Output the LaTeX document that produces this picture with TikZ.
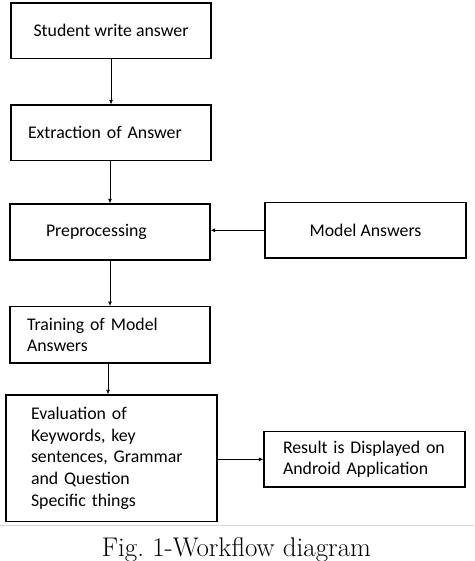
\documentclass[tikz,border=0pt]{standalone}
\usepackage{fontspec}
\newfontfamily\boxfont{Carlito}
\usetikzlibrary{arrows.meta}
\tikzset{
  box/.style={draw=black, line width=1.1pt, rectangle, font=\boxfont\fontsize{17.8pt}{21.7pt}\selectfont, align=left},
  flow/.style={draw=black, line width=0.9pt, -{Latex[length=4.5pt,width=4pt]}},
}
\begin{document}
\begin{tikzpicture}[x=1pt,y=-1pt]
\useasboundingbox (0,0) rectangle (474,561);
\node[box, minimum width=200, minimum height=55.5, align=center] (b1) at (111,30.75) {Student write answer};
\node[box, minimum height=55.7, inner xsep=17, text width=166] (b2) at (111,132.9) {Extraction of Answer};
\node[box, minimum height=56, inner xsep=36, text width=128] (b3) at (110,232) {Preprocessing};
\node[box, minimum width=201, minimum height=55.3, align=center] (m) at (365.5,230.3) {Model Answers};
\node[box, minimum height=56.3, inner xsep=17, text width=166] (b4) at (110,334.8) {Training of Model\\Answers};
\node[box, minimum height=126.7, inner xsep=25, text width=161] (b5) at (111.5,458.3) {Evaluation of\\Keywords, key\\sentences, Grammar\\and Question\\Specific things};
\node[box, minimum height=55.3, inner xsep=19, text width=163] (r) at (364.5,459.3) {Result is Displayed on\\Android Application};
\draw[flow] (b1.south) -- (b2.north);
\draw[flow] (b3.north |- b2.south) -- (b3.north);
\draw[flow] (b3.south) -- (b4.north);
\draw[flow] ([xshift=-2pt]b4.south) -- ([xshift=-2pt]b4.south |- b5.north);
\draw[flow] (m.west) -- (m.west -| b3.east);
\draw[flow] (b5.east |- r.west) -- (r.west);
\draw[draw={rgb,255:red,215;green,215;blue,215}, line width=0.8pt] (0,525.7) -- (474,525.7);
\node[font=\fontsize{27pt}{32pt}\selectfont, anchor=base] (cap) at (236.5,556) {Fig.\ 1-Workflow diagram};
\end{tikzpicture}
\end{document}
